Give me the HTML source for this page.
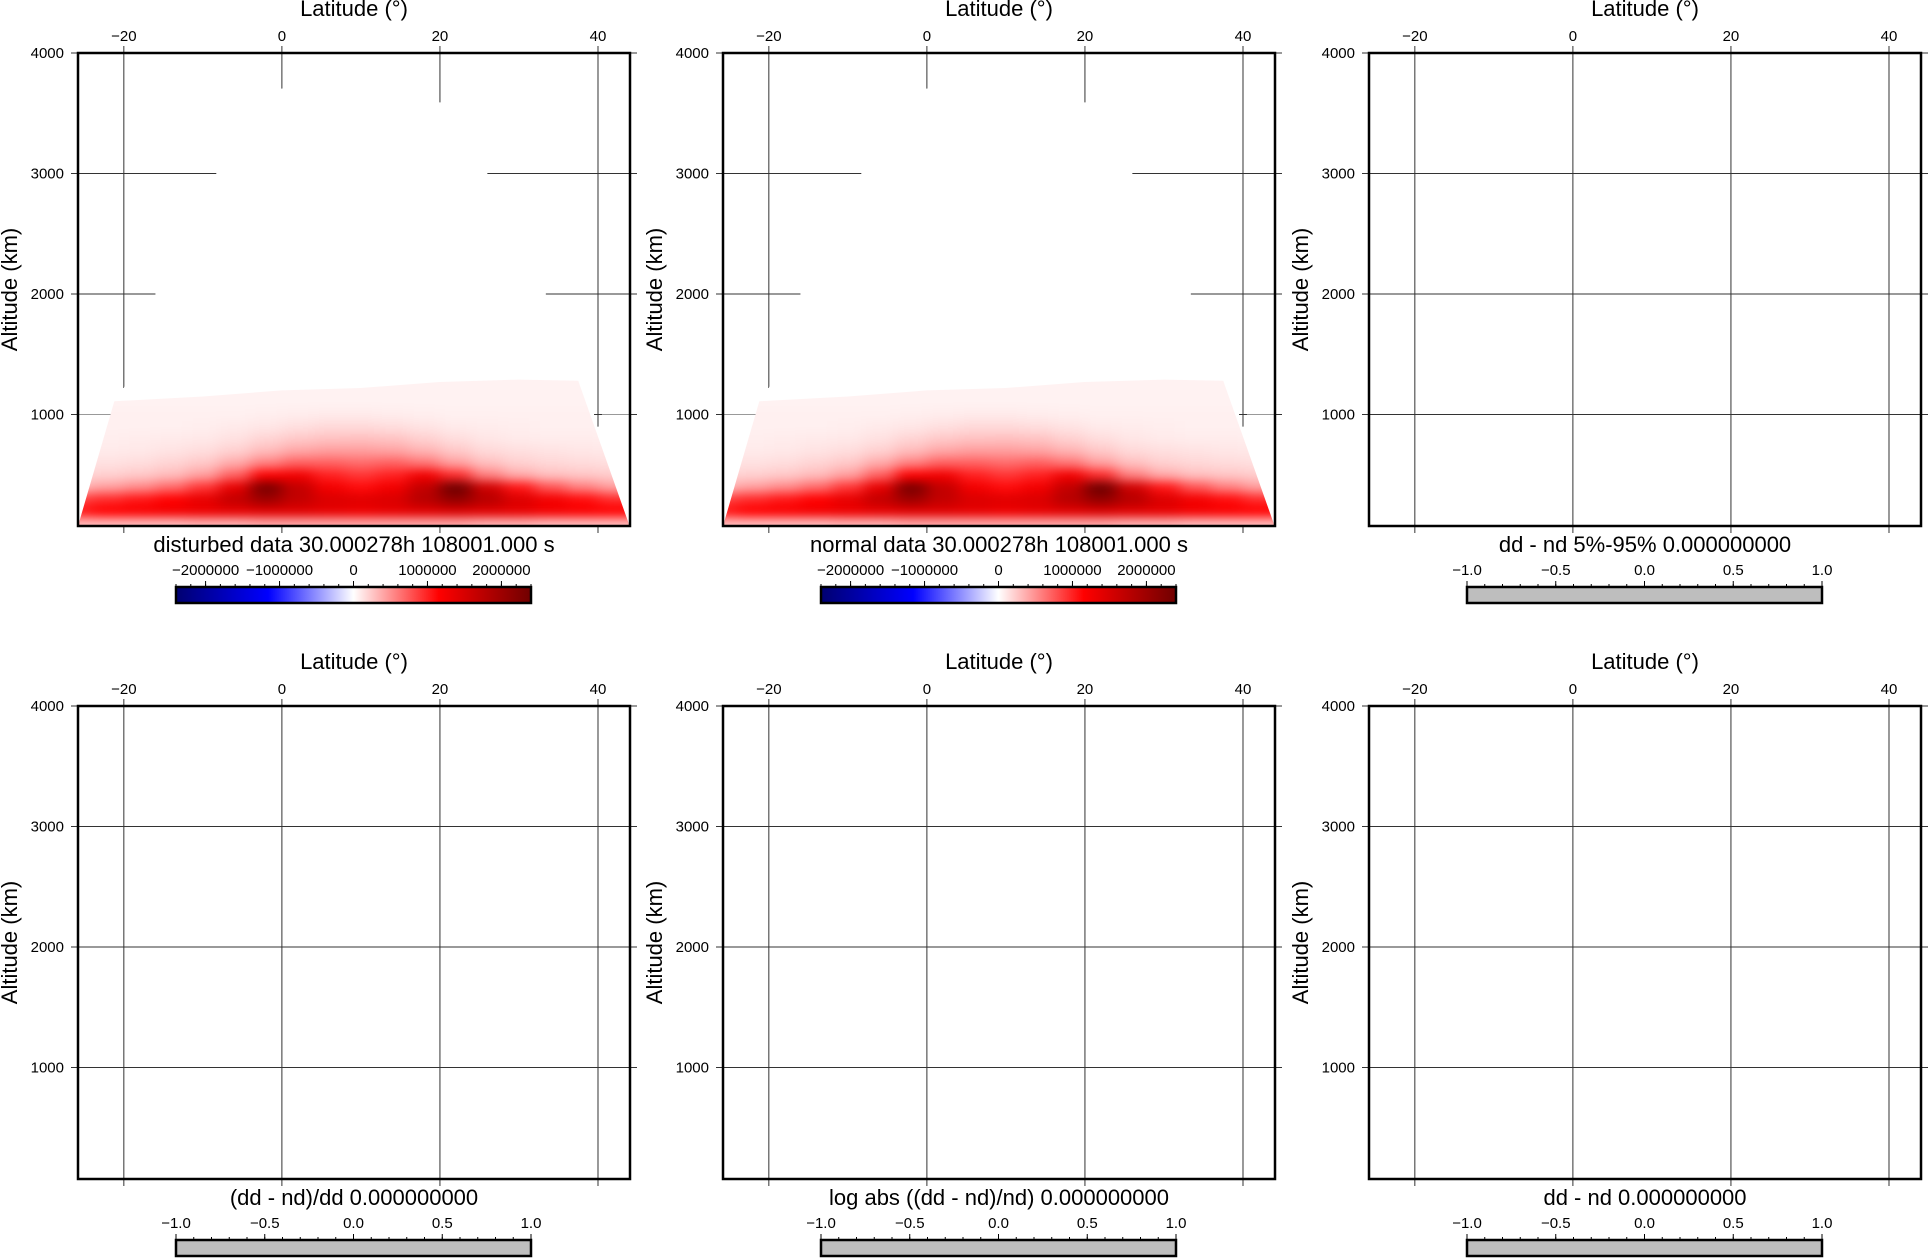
<!DOCTYPE html>
<html><head><meta charset="utf-8"><style>
html,body{margin:0;padding:0;background:#fff;}
svg{display:block;font-family:"Liberation Sans",sans-serif;}
</style></head><body>
<svg id="fig" width="1929" height="1258" viewBox="0 0 1929 1258" xmlns="http://www.w3.org/2000/svg">
<defs>
<filter id="smooth" x="-5%" y="-5%" width="110%" height="110%" color-interpolation-filters="sRGB">
<feGaussianBlur stdDeviation="8 5"/>
<feComponentTransfer><feFuncA type="table" tableValues="1 1"/></feComponentTransfer>
</filter>
<linearGradient id="polarGrad" x1="0" x2="1" y1="0" y2="0">
<stop offset="0" stop-color="#000070"/>
<stop offset="0.26" stop-color="#0000ff"/>
<stop offset="0.5" stop-color="#ffffff"/>
<stop offset="0.74" stop-color="#ff0000"/>
<stop offset="1" stop-color="#700000"/>
</linearGradient>
</defs>
</svg>
<script>
// ---- data ----
const latCenters = [-26,-22,-18,-14,-10,-6,-2,2,6,10,14,18,22,26,30,34,38,42];
const altCenters = [100,200,300,400,500,600,700,800,900,1000,1100,1200];
const d100  = [0.3,0.3,0.3,0.3,0.35,0.35,0.4,0.4,0.4,0.4,0.4,0.4,0.4,0.35,0.35,0.3,0.3,0.3];
const d200  = [1.1,1.2,1.25,1.3,1.35,1.4,1.45,1.45,1.4,1.35,1.4,1.45,1.5,1.45,1.4,1.3,1.25,1.2];
const d300  = [0.9,1.0,1.1,1.2,1.4,1.7,2.0,1.7,1.5,1.45,1.5,1.8,2.1,1.8,1.5,1.3,1.15,1.0];
const d400  = [0.35,0.45,0.55,0.7,0.95,1.4,2.3,1.7,1.3,1.15,1.3,1.7,2.4,1.6,1.1,0.8,0.6,0.45];
const d500  = [0.2,0.22,0.26,0.32,0.45,0.75,1.2,1.3,1.05,0.95,1.05,1.3,1.0,0.6,0.4,0.3,0.27,0.24];
const d600  = [0.13,0.14,0.16,0.2,0.26,0.4,0.6,0.75,0.75,0.7,0.75,0.65,0.45,0.3,0.22,0.19,0.17,0.15];
const d700  = [0.1,0.1,0.11,0.13,0.16,0.22,0.32,0.42,0.46,0.46,0.44,0.36,0.26,0.18,0.15,0.13,0.12,0.11];
const d800  = [0.08,0.08,0.09,0.1,0.11,0.14,0.2,0.26,0.29,0.3,0.28,0.22,0.16,0.12,0.1,0.09,0.09,0.08];
const d900  = [0.07,0.07,0.07,0.07,0.08,0.1,0.12,0.15,0.18,0.18,0.16,0.13,0.1,0.09,0.08,0.07,0.07,0.07];
const d1000 = [0.07,0.07,0.07,0.07,0.07,0.07,0.08,0.09,0.1,0.1,0.09,0.08,0.07,0.07,0.07,0.07,0.07,0.07];
const d1100 = [0.06,0.06,0.06,0.06,0.06,0.06,0.06,0.06,0.06,0.06,0.06,0.06,0.06,0.06,0.06,0.06,0.06,0.06];
const d1200 = [0.06,0.06,0.06,0.06,0.06,0.06,0.06,0.06,0.06,0.06,0.06,0.06,0.06,0.06,0.06,0.06,0.06,0.06];
const disturbedRows = [d100,d200,d300,d400,d500,d600,d700,d800,d900,d1000,d1100,d1200];
const normalRows = [d100,d200,d300,d400,d500,d600,d700,d800,d900,d1000,d1100,d1200];
// data footprint boundary (lat, alt)
const footprintLat = [-25.8,-21.2,-10,0,10,20,30,37.5,44];
const footprintAlt = [75,1110,1150,1200,1220,1270,1290,1280,75];
const latTicks = [-20,0,20,40];
const altTicks = [1000,2000,3000,4000];
const polarTicks = [-2000000,-1000000,0,1000000,2000000];
const polarTickLabels = ["\u22122000000","\u22121000000","0","1000000","2000000"];
const grayTicks = [-1,-0.5,0,0.5,1];
const grayTickLabels = ["\u22121.0","\u22120.5","0.0","0.5","1.0"];
const titles = ["disturbed data 30.000278h 108001.000 s","normal data 30.000278h 108001.000 s","dd - nd 5%-95% 0.000000000",
 "(dd - nd)/dd  0.000000000","log abs ((dd - nd)/nd) 0.000000000","dd - nd 0.000000000"];

const NS="http://www.w3.org/2000/svg";
const svg=document.getElementById('fig');
function mk(tag,attrs,parent){const e=document.createElementNS(NS,tag);for(const k in attrs)e.setAttribute(k,attrs[k]);(parent||svg).appendChild(e);return e;}

const W=552,H=473, LAT0=-25.8, LAT1=44.05, ALT0=75, ALT1=4000;
const VMAX=2.4;
function colorFor(v){
  let t=Math.max(-1,Math.min(1,v/VMAX));
  const a=Math.abs(t); let r,g,b;
  if(a<=0.5){const f=a/0.5; r=255;g=Math.round(255*(1-f));b=g;}
  else{const f=(a-0.5)/0.5; r=Math.round(255-145*f);g=0;b=0;}
  return t>=0?`rgb(${r},${g},${b})`:`rgb(${b},${g},${r})`;
}

function panel(idx,ox,oy,rows){
  const xs=l=>ox+(l-LAT0)/(LAT1-LAT0)*W;
  const ys=a=>oy+H-(a-ALT0)/(ALT1-ALT0)*H;
  const g=mk('g',{});
  
  
  const grid=mk('g',{stroke:'#333','stroke-width':1},g);
  
  
  latTicks.forEach(l=>{const ln=mk('line',{x1:xs(l),x2:xs(l),y1:oy-7,y2:oy+H+7},grid);
    });
  altTicks.forEach(a=>{const ln=mk('line',{x1:ox-7,x2:ox+W+7,y1:ys(a),y2:ys(a)},grid);
    });
  if(rows){
    const cover=[[LAT0,ALT0],[LAT0,1000],[-21.2,1000],[-21.2,1220],[-20,1220],[-16,1900],[-16,2100],[-8.3,2900],[-8.3,3100],[-0.5,3700],[0.5,3710],[8,3980],[12,3980],[19.5,3590],[20.5,3590],[26,3100],[26,2900],[33.4,2100],[33.4,1900],[39.5,1100],[39.5,900],[40.5,900],[40.5,1000],[LAT1,1000],[LAT1,ALT0]];
    const cv=mk('polygon',{points:cover.map(p=>xs(p[0])+','+ys(p[1])).join(' '),fill:'#fff'},g);
    
    const cid='clip'+idx;
    const cp=mk('clipPath',{id:cid},g);
    mk('polygon',{points:footprintLat.map((l,i)=>xs(l)+','+ys(footprintAlt[i])).join(' ')},cp);
    const hm=mk('g',{'clip-path':`url(#${cid})`},g);
    
    const inner=mk('g',{filter:'url(#smooth)'},hm);
    rows.forEach((row,ri)=>{
      const a=altCenters[ri];
      row.forEach((v,ci)=>{
        const l=latCenters[ci];
        let l0=l-2,l1=l+2,a0=a-50,a1=a+50;
        if(ci===0)l0-=6; if(ci===row.length-1)l1+=6;
        if(ri===0)a0-=80; if(ri===rows.length-1)a1+=150;
        const r=mk('rect',{x:xs(l0),y:ys(a1),width:xs(l1)-xs(l0)+0.5,height:ys(a0)-ys(a1)+0.5,fill:colorFor(v)},inner);
        
        
      });
    });
  }
  const fr=mk('rect',{x:ox,y:oy,width:W,height:H,fill:'none',stroke:'#000','stroke-width':2.5},g);
  
  latTicks.forEach(l=>{const t=mk('text',{x:xs(l),y:oy-12,'text-anchor':'middle','font-size':15},g);
    t.textContent=(l<0?'\u2212'+(-l):String(l));
    });
  altTicks.forEach(a=>{const t=mk('text',{x:ox-14,y:ys(a)+5,'text-anchor':'end','font-size':15},g);
    t.textContent=String(a);
    });
  const lt=mk('text',{x:ox+W/2,y:oy-37,'text-anchor':'middle','font-size':22},g);
  lt.textContent='Latitude (\u00b0)';
  
  const at=mk('text',{x:0,y:0,'text-anchor':'middle','font-size':22,transform:`translate(${ox-61},${oy+H/2}) rotate(-90)`},g);
  at.textContent='Altitude (km)';
  
  const tt=mk('text',{x:ox+W/2,y:oy+H+26,'text-anchor':'middle','font-size':22},g);
  tt.textContent=titles[idx];
  
  const cbx=ox+98, cbw=355, cby=oy+H+61, cbh=16;
  const cb=mk('g',{},g);
  
  const polar=!!rows;
  const bar=mk('rect',{x:cbx,y:cby,width:cbw,height:cbh,fill:polar?'url(#polarGrad)':'#bebebe',stroke:'#000','stroke-width':2.5},cb);
  
  const lo=polar?-2400000:-1, hi=polar?2400000:1;
  const cx=v=>cbx+(v-lo)/(hi-lo)*cbw;
  const minorStep=polar?200000:0.1;
  for(let k=Math.ceil(lo/minorStep);k*minorStep<=hi+1e-9;k++){
    const v=k*minorStep; mk('line',{x1:cx(v),x2:cx(v),y1:cby-3,y2:cby,stroke:'#000','stroke-width':1},cb);
  }
  const tk=polar?polarTicks:grayTicks, tl=polar?polarTickLabels:grayTickLabels;
  tk.forEach((v,i)=>{
    mk('line',{x1:cx(v),x2:cx(v),y1:cby-6,y2:cby,stroke:'#000','stroke-width':1},cb);
    const t=mk('text',{x:cx(v),y:cby-12,'text-anchor':'middle','font-size':15},cb);
    t.textContent=tl[i];
    
  });
}
const colX=[78,723,1369], rowY=[53,706];
const panelRows=[disturbedRows,normalRows,null,null,null,null];
for(let i=0;i<6;i++) panel(i,colX[i%3],rowY[Math.floor(i/3)],panelRows[i]);
</script>
</body></html>
